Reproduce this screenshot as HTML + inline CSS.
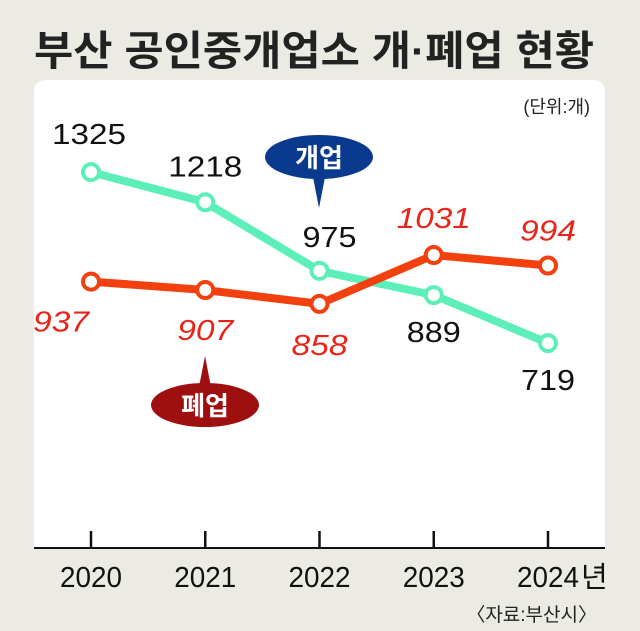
<!DOCTYPE html>
<html><head><meta charset="utf-8"><style>
html,body{margin:0;padding:0;background:#ebebe3;}
svg{display:block;font-family:"Liberation Sans","Noto Sans CJK KR",sans-serif;}
</style></head><body>
<svg width="640" height="631" viewBox="0 0 640 631">
<rect width="640" height="631" fill="#ebebe3"/>
<text x="34" y="65" font-size="41" font-weight="bold" fill="#222" textLength="560" lengthAdjust="spacingAndGlyphs">부산 공인중개업소 개·폐업 현황</text>
<path d="M34,549 V92 Q34,80 46,80 H593 Q605,80 605,92 V549 Z" fill="#fff"/>
<text x="590" y="113" font-size="18" text-anchor="end" fill="#222">(단위:개)</text>
<line x1="34" y1="548" x2="605" y2="548" stroke="#111" stroke-width="2"/>
<g id="ticks"></g>
<g id="lines"></g>
<g id="labels"></g>
<g>
<polygon points="312,172 326,172 319,208" fill="#0a3a8e"/>
<ellipse cx="319" cy="157" rx="54" ry="22" fill="#0a3a8e"/>
<text x="319" y="167" font-size="26" font-weight="bold" fill="#fff" text-anchor="middle">개업</text>
</g>
<g>
<polygon points="198,392 212,392 205,356" fill="#9e1010"/>
<ellipse cx="205" cy="405" rx="54" ry="22" fill="#9e1010"/>
<text x="205" y="415" font-size="26" font-weight="bold" fill="#fff" text-anchor="middle">폐업</text>
</g>
<text x="597" y="621" font-size="19" text-anchor="end" fill="#222">〈자료:부산시〉</text>
</svg>
<script>
const years=["2020","2021","2022","2023","2024"];
const openValues=[1325,1218,975,889,719];
const closeValues=[937,907,858,1031,994];
const NS="http://www.w3.org/2000/svg";
const xPos=i=>91+i*114.25;
const yPos=v=>546-v*0.2822;
function mk(tag,attrs,parent,txt){const e=document.createElementNS(NS,tag);for(const k in attrs)e.setAttribute(k,attrs[k]);if(txt!==undefined)e.textContent=txt;parent.appendChild(e);return e;}
const ticks=document.getElementById('ticks'),lines=document.getElementById('lines'),labels=document.getElementById('labels');
years.forEach((y,i)=>{
  const t=mk('line',{x1:xPos(i),x2:xPos(i),y1:531,y2:548,stroke:'#111','stroke-width':2.5},ticks);
  
  
  const l=mk('text',{x:xPos(i),y:587,'font-size':29,'text-anchor':'middle',fill:'#111',textLength:62,lengthAdjust:'spacingAndGlyphs'},ticks,y);
  
  
});
const yl=mk('text',{x:xPos(4)+33,y:587,'font-size':29,fill:'#111'},ticks,'년');


function series(vals,color,name){
  const pts=vals.map((v,i)=>xPos(i)+','+yPos(v)).join(' ');
  const pl=mk('polyline',{points:pts,fill:'none',stroke:color,'stroke-width':8,'stroke-linejoin':'round'},lines);
  
  
  vals.forEach((v,i)=>{
    const c=mk('circle',{cx:xPos(i),cy:yPos(v),r:8,fill:'#fff',stroke:color,'stroke-width':4},lines);
    
    
  });
}
series(openValues,'#5cf0b8','open');
series(closeValues,'#f2400f','close');
const openOff=[[-2,-28],[0,-26],[10,-24],[0,47],[0,47]];
openValues.forEach((v,i)=>{
  const t=mk('text',{x:xPos(i)+openOff[i][0],y:yPos(v)+openOff[i][1],'font-size':29,'text-anchor':'middle',fill:'#111',textLength:v>=1000?74:54,lengthAdjust:'spacingAndGlyphs'},labels,String(v));
  
  
});
const closeOff=[[-30,50],[0,50],[0,51],[0,-27],[0,-25]];
closeValues.forEach((v,i)=>{
  const t=mk('text',{x:xPos(i)+closeOff[i][0],y:yPos(v)+closeOff[i][1],'font-size':29,'font-style':'italic','text-anchor':'middle',fill:'#e8251a',textLength:v>=1000?74:56,lengthAdjust:'spacingAndGlyphs'},labels,String(v));
  
  
});
</script>
</body></html>
